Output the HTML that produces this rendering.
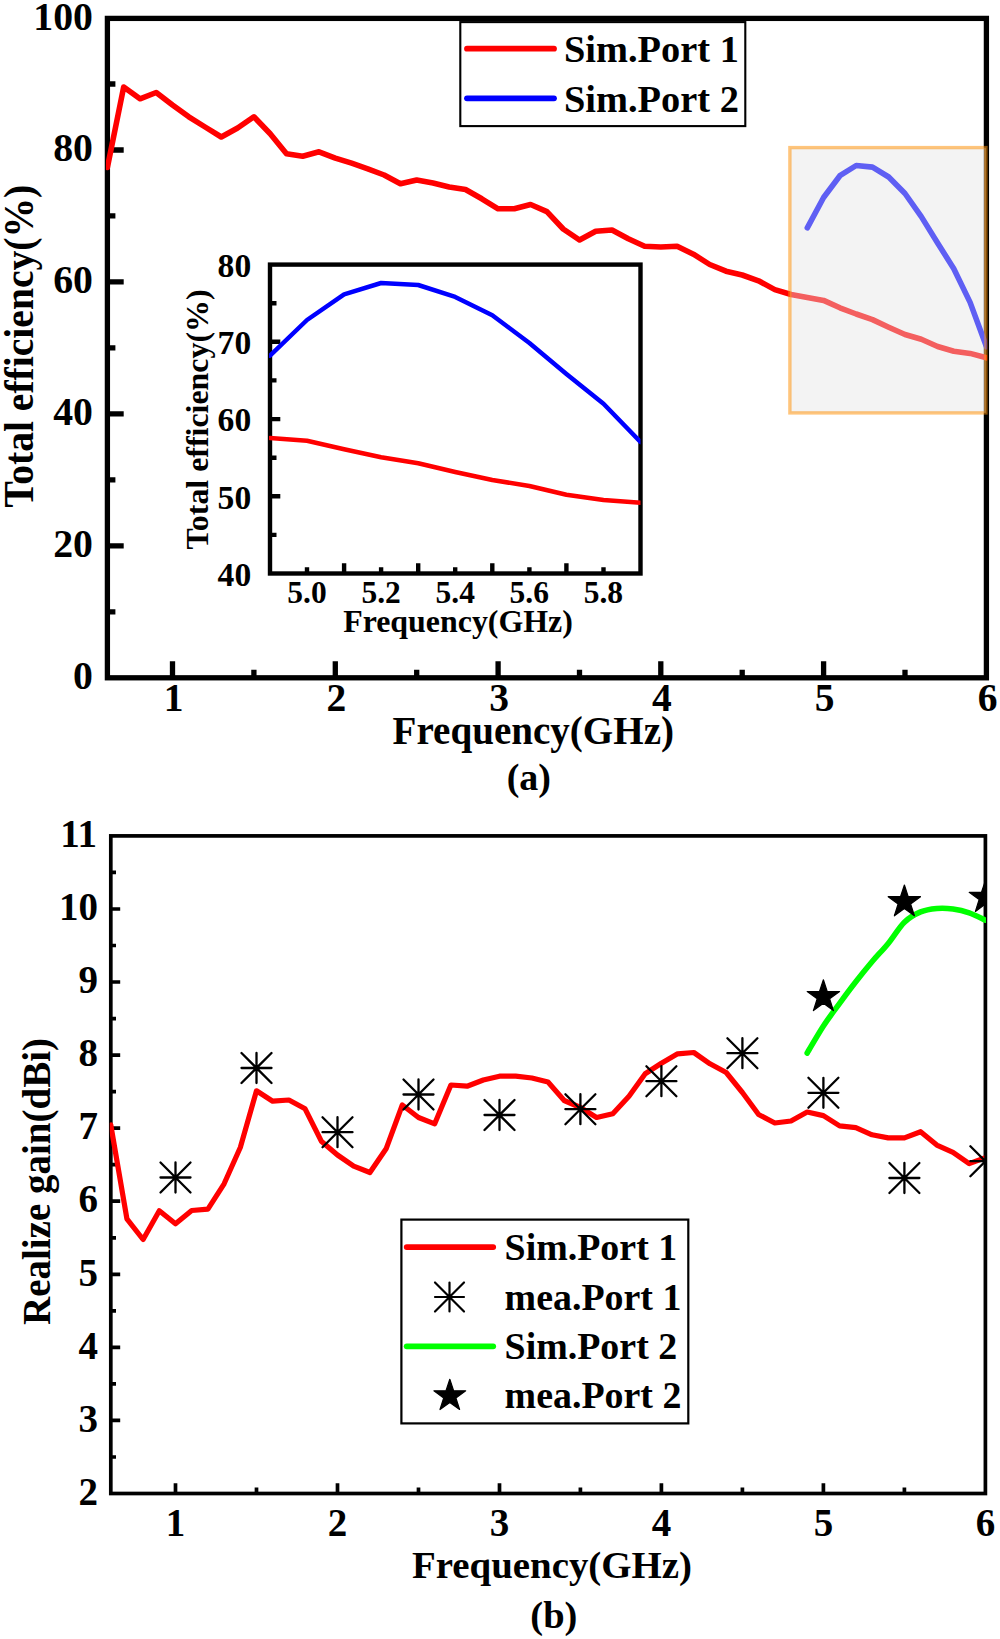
<!DOCTYPE html>
<html lang="en"><head><meta charset="utf-8"><title>Total efficiency and realized gain</title>
<style>html,body{margin:0;padding:0;background:#fff}svg{display:block}text{font-family:'Liberation Serif','Times New Roman',serif;font-weight:bold;fill:#000}</style></head><body>
<svg width="1000" height="1639" viewBox="0 0 1000 1639" role="img" aria-label="Total efficiency and realized gain charts">
<rect width="1000" height="1639" fill="#fff"/>
<defs>
<clipPath id="ca"><rect x="105.9" y="18.0" width="881.2" height="659.8"/></clipPath>
<clipPath id="ci"><rect x="269.0" y="264.6" width="371.5" height="308.9"/></clipPath>
<clipPath id="cb"><rect x="109.8" y="835.9" width="876.2" height="657.6"/></clipPath>
</defs>
<g id="chart-a">
<rect x="107.4" y="18.4" width="879.0" height="659.4" fill="none" stroke="#000" stroke-width="5.3"/>
<path d="M172.5 677.8V661.3M335.3 677.8V661.3M498.1 677.8V661.3M660.8 677.8V661.3M823.6 677.8V661.3M253.9 677.8V669.8M416.7 677.8V669.8M579.5 677.8V669.8M742.2 677.8V669.8M905.0 677.8V669.8M107.4 545.8H123.7M107.4 413.9H123.7M107.4 281.9H123.7M107.4 150.0H123.7M107.4 611.8H115.4M107.4 479.9H115.4M107.4 347.9H115.4M107.4 215.9H115.4M107.4 84.0H115.4" stroke="#000" stroke-width="5.3" fill="none"/>
<text x="173.6" y="710.7" font-size="39.5" text-anchor="middle">1</text>
<text x="336.4" y="710.7" font-size="39.5" text-anchor="middle">2</text>
<text x="499.2" y="710.7" font-size="39.5" text-anchor="middle">3</text>
<text x="661.9" y="710.7" font-size="39.5" text-anchor="middle">4</text>
<text x="824.7" y="710.7" font-size="39.5" text-anchor="middle">5</text>
<text x="987.5" y="710.7" font-size="39.5" text-anchor="middle">6</text>
<text x="93.0" y="689.1" font-size="39.8" text-anchor="end">0</text>
<text x="93.0" y="557.1" font-size="39.8" text-anchor="end">20</text>
<text x="93.0" y="425.2" font-size="39.8" text-anchor="end">40</text>
<text x="93.0" y="293.2" font-size="39.8" text-anchor="end">60</text>
<text x="93.0" y="161.3" font-size="39.8" text-anchor="end">80</text>
<text x="93.0" y="29.7" font-size="39.8" text-anchor="end">100</text>
<text x="533.3" y="744.3" font-size="39.1" text-anchor="middle">Frequency(GHz)</text>
<text transform="translate(33 346.2) rotate(-90) scale(1 1.088)" font-size="39.6" text-anchor="middle">Total efficiency(%)</text>
<text x="528.8" y="789.9" font-size="38.0" text-anchor="middle">(a)</text>
<g clip-path="url(#ca)" fill="none" stroke-linejoin="round" stroke-linecap="round">
<polyline points="107.4,167.5 123.7,87.0 140.0,98.8 156.2,92.5 172.5,105.0 188.8,116.8 205.1,127.0 221.3,137.0 237.6,128.0 253.9,116.8 270.2,133.8 286.5,153.8 302.7,156.2 319.0,151.8 335.3,158.1 351.6,163.2 367.8,168.8 384.1,175.0 400.4,183.8 416.7,180.0 433.0,183.0 449.2,187.0 465.5,189.5 481.8,198.8 498.1,208.8 514.3,208.8 530.6,204.5 546.9,211.6 563.2,229.0 579.5,240.0 595.7,231.2 612.0,230.0 628.3,238.8 644.6,246.2 660.8,247.0 677.1,246.2 693.4,254.2 709.7,264.5 726.0,271.2 742.2,275.0 758.5,280.8 774.8,289.6 791.1,294.5 807.3,297.4 823.6,300.4 839.9,307.8 856.2,314.0 872.5,319.6 888.7,327.2 905.0,334.5 921.3,339.3 937.6,346.5 953.8,351.2 970.1,353.4 986.4,357.8" stroke="#ff0000" stroke-width="5.6"/>
<polyline points="807.3,227.8 823.6,197.5 839.9,175.7 856.2,165.5 872.5,167.1 888.7,177.0 905.0,193.5 921.3,216.6 937.6,243.0 953.8,268.7 970.1,302.4 986.4,346.6" stroke="#0000ff" stroke-width="5.6"/>
</g>
<rect x="460.3" y="22.1" width="285.0" height="104.0" fill="#fff" stroke="#000" stroke-width="2.1"/>
<path d="M467.0 48.7H554.0" stroke="#ff0000" stroke-width="5.8" stroke-linecap="round"/>
<path d="M467.0 98.3H554.0" stroke="#0000ff" stroke-width="5.8" stroke-linecap="round"/>
<text x="564.0" y="62.1" font-size="38.4" text-anchor="start">Sim.Port 1</text>
<text x="564.0" y="111.9" font-size="38.4" text-anchor="start">Sim.Port 2</text>
<rect x="789.9" y="147.6" width="196.0" height="265.3" fill="rgba(227,227,227,0.42)" stroke="rgba(255,146,8,0.53)" stroke-width="3.4"/>
</g>
<g id="inset">
<rect x="270.0" y="264.6" width="370.5" height="308.9" fill="#fff" stroke="#000" stroke-width="4.4"/>
<path d="M307.0 573.5V567.2M344.1 573.5V563.2M381.1 573.5V567.2M418.2 573.5V563.2M455.2 573.5V567.2M492.3 573.5V563.2M529.4 573.5V567.2M566.4 573.5V563.2M603.5 573.5V567.2M270.0 496.3H280.3M270.0 419.1H280.3M270.0 341.8H280.3M270.0 534.9H276.5M270.0 457.7H276.5M270.0 380.4H276.5M270.0 303.2H276.5" stroke="#000" stroke-width="4.4" fill="none"/>
<text x="307.0" y="603.0" font-size="31.5" text-anchor="middle">5.0</text>
<text x="381.1" y="603.0" font-size="31.5" text-anchor="middle">5.2</text>
<text x="455.2" y="603.0" font-size="31.5" text-anchor="middle">5.4</text>
<text x="529.3" y="603.0" font-size="31.5" text-anchor="middle">5.6</text>
<text x="603.4" y="603.0" font-size="31.5" text-anchor="middle">5.8</text>
<text x="251.2" y="585.7" font-size="33.6" text-anchor="end">40</text>
<text x="251.2" y="508.5" font-size="33.6" text-anchor="end">50</text>
<text x="251.2" y="431.2" font-size="33.6" text-anchor="end">60</text>
<text x="251.2" y="354.0" font-size="33.6" text-anchor="end">70</text>
<text x="251.2" y="276.8" font-size="33.6" text-anchor="end">80</text>
<text x="458.0" y="631.8" font-size="31.9" text-anchor="middle">Frequency(GHz)</text>
<text transform="translate(207.8 419.5) rotate(-90)" font-size="31.9" text-anchor="middle">Total efficiency(%)</text>
<g clip-path="url(#ci)" fill="none" stroke-linejoin="round" stroke-linecap="round">
<polyline points="270.0,355.6 307.0,320.0 344.1,294.4 381.1,283.0 418.2,285.0 455.2,296.9 492.3,315.2 529.4,343.0 566.4,374.0 603.5,403.8 640.5,442.0" stroke="#0000ff" stroke-width="4.5"/>
<polyline points="270.0,438.0 307.0,440.8 344.1,449.2 381.1,457.2 418.2,463.2 455.2,472.0 492.3,480.0 529.4,486.0 566.4,494.8 603.5,500.0 640.5,502.8" stroke="#ff0000" stroke-width="4.5"/>
</g>
</g>
<g id="chart-b">
<rect x="110.8" y="835.9" width="874.6" height="657.6" fill="none" stroke="#000" stroke-width="3.7"/>
<path d="M175.5 1493.5V1483.2M337.5 1493.5V1483.2M499.5 1493.5V1483.2M661.4 1493.5V1483.2M823.4 1493.5V1483.2M256.5 1493.5V1487.5M418.5 1493.5V1487.5M580.4 1493.5V1487.5M742.4 1493.5V1487.5M904.4 1493.5V1487.5M110.8 1420.4H120.2M110.8 1347.4H120.2M110.8 1274.3H120.2M110.8 1201.2H120.2M110.8 1128.2H120.2M110.8 1055.1H120.2M110.8 982.0H120.2M110.8 909.0H120.2M110.8 1457.0H116.0M110.8 1383.9H116.0M110.8 1310.8H116.0M110.8 1237.8H116.0M110.8 1164.7H116.0M110.8 1091.6H116.0M110.8 1018.6H116.0M110.8 945.5H116.0M110.8 872.4H116.0" stroke="#000" stroke-width="3.7" fill="none"/>
<text x="175.5" y="1535.5" font-size="39.0" text-anchor="middle">1</text>
<text x="337.5" y="1535.5" font-size="39.0" text-anchor="middle">2</text>
<text x="499.5" y="1535.5" font-size="39.0" text-anchor="middle">3</text>
<text x="661.4" y="1535.5" font-size="39.0" text-anchor="middle">4</text>
<text x="823.4" y="1535.5" font-size="39.0" text-anchor="middle">5</text>
<text x="985.4" y="1535.5" font-size="39.0" text-anchor="middle">6</text>
<text x="98.0" y="1504.7" font-size="39.0" text-anchor="end">2</text>
<text x="98.0" y="1431.6" font-size="39.0" text-anchor="end">3</text>
<text x="98.0" y="1358.6" font-size="39.0" text-anchor="end">4</text>
<text x="98.0" y="1285.5" font-size="39.0" text-anchor="end">5</text>
<text x="98.0" y="1212.4" font-size="39.0" text-anchor="end">6</text>
<text x="98.0" y="1139.4" font-size="39.0" text-anchor="end">7</text>
<text x="98.0" y="1066.3" font-size="39.0" text-anchor="end">8</text>
<text x="98.0" y="993.2" font-size="39.0" text-anchor="end">9</text>
<text x="98.0" y="920.2" font-size="39.0" text-anchor="end">10</text>
<text x="97.0" y="847.1" font-size="39.0" text-anchor="end">11</text>
<text x="552.0" y="1578.2" font-size="38.9" text-anchor="middle">Frequency(GHz)</text>
<text transform="translate(50.4 1181.5) rotate(-90)" font-size="39" text-anchor="middle">Realize gain(dBi)</text>
<text x="553.9" y="1627.8" font-size="38.5" text-anchor="middle">(b)</text>
<g clip-path="url(#cb)" fill="none" stroke-linejoin="round" stroke-linecap="round">
<polyline points="110.8,1125.0 126.9,1218.8 143.1,1239.5 159.3,1210.8 175.5,1223.8 191.7,1210.5 207.9,1209.2 224.1,1183.8 240.3,1147.5 256.5,1090.8 272.7,1101.2 288.9,1100.0 305.1,1108.8 321.3,1141.2 337.5,1155.0 353.7,1166.2 369.9,1172.5 386.1,1148.8 402.3,1105.0 418.5,1117.5 434.7,1123.8 450.9,1085.0 467.1,1086.2 483.3,1080.0 499.5,1076.2 515.7,1076.2 531.9,1078.0 548.0,1082.0 564.2,1100.5 580.4,1107.5 596.6,1117.5 612.8,1113.8 629.0,1096.2 645.2,1073.8 661.4,1063.2 677.6,1053.8 693.8,1052.5 710.0,1063.8 726.2,1072.5 742.4,1092.5 758.6,1114.5 774.8,1123.0 791.0,1121.0 807.2,1112.0 823.4,1115.6 839.6,1125.9 855.8,1127.6 872.0,1134.8 888.2,1137.9 904.4,1137.9 920.6,1131.7 936.8,1145.1 953.0,1152.3 969.2,1163.6 985.4,1157.8" stroke="#ff0000" stroke-width="5.2"/>
<path d="M807.2 1053.0C809.9 1048.5 818.0 1034.3 823.4 1026.0C828.8 1017.7 834.2 1010.8 839.6 1003.4C845.0 996.0 850.4 988.7 855.8 981.8C861.2 974.9 866.6 968.2 872.0 961.8C877.4 955.4 882.8 950.0 888.2 943.4C893.6 936.8 899.0 927.5 904.4 922.2C909.8 917.0 915.2 914.2 920.6 911.9C926.0 909.6 931.4 909.0 936.8 908.5C942.2 908.0 947.6 908.3 953.0 909.0C958.4 909.7 963.8 910.9 969.2 912.8C974.6 914.7 982.7 919.0 985.4 920.2" stroke="#00ff00" stroke-width="5.6"/>
</g>
<g clip-path="url(#cb)">
<path d="M160.5 1177.5H190.5M175.5 1162.5V1192.5M160.5 1162.5L190.5 1192.5M160.5 1192.5L190.5 1162.5" stroke="#000" stroke-width="2.3" stroke-linecap="round" fill="none"/>
<path d="M241.5 1068.0H271.5M256.5 1053.0V1083.0M241.5 1053.0L271.5 1083.0M241.5 1083.0L271.5 1053.0" stroke="#000" stroke-width="2.3" stroke-linecap="round" fill="none"/>
<path d="M322.5 1132.2H352.5M337.5 1117.2V1147.2M322.5 1117.2L352.5 1147.2M322.5 1147.2L352.5 1117.2" stroke="#000" stroke-width="2.3" stroke-linecap="round" fill="none"/>
<path d="M403.5 1094.5H433.5M418.5 1079.5V1109.5M403.5 1079.5L433.5 1109.5M403.5 1109.5L433.5 1079.5" stroke="#000" stroke-width="2.3" stroke-linecap="round" fill="none"/>
<path d="M484.5 1115.0H514.5M499.5 1100.0V1130.0M484.5 1100.0L514.5 1130.0M484.5 1130.0L514.5 1100.0" stroke="#000" stroke-width="2.3" stroke-linecap="round" fill="none"/>
<path d="M565.4 1109.2H595.4M580.4 1094.2V1124.2M565.4 1094.2L595.4 1124.2M565.4 1124.2L595.4 1094.2" stroke="#000" stroke-width="2.3" stroke-linecap="round" fill="none"/>
<path d="M646.4 1081.2H676.4M661.4 1066.2V1096.2M646.4 1066.2L676.4 1096.2M646.4 1096.2L676.4 1066.2" stroke="#000" stroke-width="2.3" stroke-linecap="round" fill="none"/>
<path d="M727.4 1053.2H757.4M742.4 1038.2V1068.2M727.4 1038.2L757.4 1068.2M727.4 1068.2L757.4 1038.2" stroke="#000" stroke-width="2.3" stroke-linecap="round" fill="none"/>
<path d="M808.4 1092.8H838.4M823.4 1077.8V1107.8M808.4 1077.8L838.4 1107.8M808.4 1107.8L838.4 1077.8" stroke="#000" stroke-width="2.3" stroke-linecap="round" fill="none"/>
<path d="M889.4 1178.0H919.4M904.4 1163.0V1193.0M889.4 1163.0L919.4 1193.0M889.4 1193.0L919.4 1163.0" stroke="#000" stroke-width="2.3" stroke-linecap="round" fill="none"/>
<path d="M970.4 1161.2H1000.4M985.4 1146.2V1176.2M970.4 1146.2L1000.4 1176.2M970.4 1176.2L1000.4 1146.2" stroke="#000" stroke-width="2.3" stroke-linecap="round" fill="none"/>
<polygon points="823.4,979.8 827.2,991.5 839.6,991.5 829.6,998.8 833.4,1010.6 823.4,1003.3 813.4,1010.6 817.2,998.8 807.2,991.5 819.5,991.5" fill="#000" stroke="#000" stroke-width="1.2" stroke-linejoin="round"/>
<polygon points="904.4,885.0 908.2,896.7 920.5,896.7 910.6,904.0 914.4,915.8 904.4,908.5 894.4,915.8 898.1,904.0 888.2,896.7 900.5,896.7" fill="#000" stroke="#000" stroke-width="1.2" stroke-linejoin="round"/>
<polygon points="985.4,880.6 989.2,892.3 1001.5,892.3 991.6,899.6 995.3,911.4 985.4,904.1 975.4,911.4 979.1,899.6 969.2,892.3 981.5,892.3" fill="#000" stroke="#000" stroke-width="1.2" stroke-linejoin="round"/>
</g>
<rect x="401.4" y="1219.6" width="286.9" height="203.8" fill="#fff" stroke="#000" stroke-width="2.2"/>
<path d="M406.7 1247.1H493.2" stroke="#ff0000" stroke-width="5.8" stroke-linecap="round"/>
<path d="M406.7 1346.3H493.2" stroke="#00ff00" stroke-width="5.8" stroke-linecap="round"/>
<path d="M435.0 1297.0H464.0M449.5 1282.5V1311.5M435.0 1282.5L464.0 1311.5M435.0 1311.5L464.0 1282.5" stroke="#000" stroke-width="2.2" stroke-linecap="round" fill="none"/>
<polygon points="449.8,1379.3 453.6,1390.8 465.7,1390.8 455.9,1398.0 459.6,1409.5 449.8,1402.4 440.0,1409.5 443.7,1398.0 433.9,1390.8 446.0,1390.8" fill="#000" stroke="#000" stroke-width="1.2" stroke-linejoin="round"/>
<text x="504.6" y="1260.1" font-size="37.9" text-anchor="start">Sim.Port 1</text>
<text x="504.6" y="1309.6" font-size="37.9" text-anchor="start">mea.Port 1</text>
<text x="504.6" y="1359.1" font-size="37.9" text-anchor="start">Sim.Port 2</text>
<text x="504.6" y="1408.4" font-size="37.9" text-anchor="start">mea.Port 2</text>
</g>
</svg></body></html>
